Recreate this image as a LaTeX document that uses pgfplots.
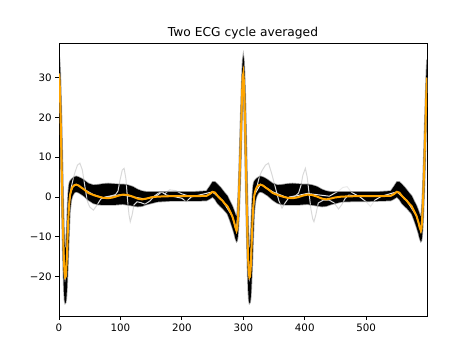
\documentclass[border=0pt]{standalone}
\usepackage{fontspec}
\setmainfont{DejaVu Sans}
\usepackage{pgfplots}
\usepackage{pgfplotstable}
\pgfplotsset{compat=1.18}
\usepgfplotslibrary{fillbetween}
\definecolor{mplorange}{HTML}{FFA500}
\definecolor{lightgr}{HTML}{D9D9D9}
\definecolor{lightgrb}{HTML}{EAEAEA}

% x mean upper lower
\pgfplotstableread{
x M U L
0 31.0 35.6 27.0
1 29.0 34.5 23.0
2 24.0 31.5 16.0
3 17.5 27.0 9.0
4 10.0 21.0 1.0
5 2.5 14.0 -6.0
6 -5.0 6.5 -13.0
7 -11.0 -1.0 -19.0
8 -16.0 -7.0 -23.5
9 -19.0 -11.5 -26.0
10 -20.2 -13.0 -26.7
11 -20.0 -12.5 -26.5
12 -18.0 -10.0 -25.5
13 -14.5 -6.0 -23.0
14 -10.0 -2.0 -19.5
15 -6.0 1.0 -15.5
16 -3.0 2.8 -11.0
17 -1.0 3.6 -7.0
18 0.5 4.0 -3.5
20 1.8 4.4 -0.8
22 2.5 4.7 0.3
25 3.0 5.0 1.1
28 3.1 5.2 1.3
32 2.9 5.0 1.1
36 2.4 4.7 0.7
40 2.0 4.3 0.3
48 1.0 3.4 -0.8
56 0.5 3.0 -1.6
64 0.1 3.1 -1.9
72 -0.2 3.3 -2.0
80 -0.3 3.4 -2.0
88 -0.1 3.3 -2.0
96 0.3 3.2 -1.9
104 0.6 3.2 -1.8
112 0.5 3.0 -2.0
120 0.1 2.6 -2.2
128 -0.4 1.9 -2.4
135 -0.6 1.5 -2.3
142 -0.4 1.3 -1.9
150 -0.1 1.3 -1.6
160 0.1 1.3 -1.2
180 0.2 1.3 -1.0
200 0.2 1.3 -1.0
220 0.2 1.3 -1.0
240 0.3 1.5 -0.9
245 0.7 2.6 -0.5
250 1.3 3.8 0.0
254 1.1 3.8 -0.6
258 0.3 3.2 -1.6
263 -0.5 2.4 -2.4
266 -0.9 1.8 -2.8
270 -1.7 1.0 -3.5
274 -2.3 0.3 -4.2
278 -3.5 -1.0 -5.8
282 -4.8 -2.2 -7.6
285 -6.3 -3.4 -9.1
287 -7.6 -4.3 -10.4
289 -8.5 -5.0 -11.2
290 -8.0 -4.0 -11.0
291 -6.0 -1.5 -10.0
292 -3.0 2.0 -8.0
293 1.0 6.5 -5.0
294 5.5 11.5 -1.0
295 10.0 17.0 3.0
296 15.0 22.0 8.0
297 20.5 27.0 14.0
298 26.0 31.5 20.0
299 30.0 34.5 25.0
300 31.0 35.6 27.0
301 29.0 34.5 23.0
302 24.0 31.5 16.0
303 17.5 27.0 9.0
304 10.0 21.0 1.0
305 2.5 14.0 -6.0
306 -5.0 6.5 -13.0
307 -11.0 -1.0 -19.0
308 -16.0 -7.0 -23.5
309 -19.0 -11.5 -26.0
310 -20.2 -13.0 -26.7
311 -20.0 -12.5 -26.5
312 -18.0 -10.0 -25.5
313 -14.5 -6.0 -23.0
314 -10.0 -2.0 -19.5
315 -6.0 1.0 -15.5
316 -3.0 2.8 -11.0
317 -1.0 3.6 -7.0
318 0.5 4.0 -3.5
320 1.8 4.4 -0.8
322 2.5 4.7 0.3
325 3.0 5.0 1.1
328 3.1 5.2 1.3
332 2.9 5.0 1.1
336 2.4 4.7 0.7
340 2.0 4.3 0.3
348 1.0 3.4 -0.8
356 0.5 3.0 -1.6
364 0.1 3.1 -1.9
372 -0.2 3.3 -2.0
380 -0.3 3.4 -2.0
388 -0.1 3.3 -2.0
396 0.3 3.2 -1.9
404 0.6 3.2 -1.8
412 0.5 3.0 -2.0
420 0.1 2.6 -2.2
428 -0.4 1.9 -2.4
435 -0.6 1.5 -2.3
442 -0.4 1.3 -1.9
450 -0.1 1.3 -1.6
460 0.1 1.3 -1.2
480 0.2 1.3 -1.1
500 0.2 1.3 -1.1
520 0.2 1.3 -1.0
540 0.3 1.5 -0.9
545 0.7 2.6 -0.5
550 1.3 3.8 0.0
554 1.1 3.8 -0.6
558 0.3 3.2 -1.6
563 -0.5 2.4 -2.4
566 -0.9 1.8 -2.8
570 -1.7 1.0 -3.5
574 -2.3 0.3 -4.2
578 -3.5 -1.0 -5.8
582 -4.8 -2.2 -7.6
585 -6.3 -3.4 -9.1
587 -7.6 -4.3 -10.4
589 -8.5 -5.0 -11.2
590 -8.0 -4.0 -11.0
591 -6.0 -1.5 -10.0
592 -3.0 2.0 -8.0
593 1.0 6.5 -5.0
594 5.5 11.5 -1.0
595 10.0 17.0 3.0
596 15.0 22.0 8.0
597 20.5 27.0 14.0
598 26.0 31.5 20.0
599 30.0 34.5 25.0
}\band

\pgfplotstableread{
x y
0 31
2 24
4 10
6 -5
8 -16
10 -20.2
12 -18
14 -10
16 -3
18 0.5
20 2.5
23 4.5
26 6.2
30 8.0
34 8.5
38 6.8
42 2.8
46 -1.0
50 -2.5
56 -3.3
62 -2.0
68 -0.5
75 0
85 0.3
92 0.6
96 1.5
99 4.0
103 6.8
106 7.2
109 4.5
112 -1.5
114 -4.5
116 -6.2
119 -4.5
122 -2
127 -1.2
133 -1.4
140 -1.8
148 -1.0
155 0.2
162 1.0
167 1.3
172 0.8
180 1.8
190 1.6
200 0.8
210 0.3
240 0.3
250 1.3
258 0.3
266 -0.9
274 -2.3
282 -4.8
289 -8.5
291 -6
293 1
295 10
297 20.5
299 30
300 31
302 24
304 10
306 -5
308 -16
310 -20.2
312 -18
314 -10
316 -3
318 0.5
322 2.5
326 5
330 6.5
336 8.0
341 8.5
346 6.0
352 2.5
358 -1.0
363 -2.8
368 -1.5
375 0
385 0.3
390 1.0
394 3
397 5.5
401 7.2
404 5
407 1
410 -3
413 -5.5
415 -6.2
418 -4.5
422 -1.5
430 -0.8
440 -0.8
448 -1.5
455 -3.0
460 -2.0
466 -0.3
472 0.5
480 0.3
500 0.2
540 0.3
550 1.3
558 0.3
566 -0.9
574 -2.3
582 -4.8
589 -8.5
591 -6
593 1
595 10
597 20.5
599 30
}\grayA

\pgfplotstableread{
x y
0 31
2 24
4 10
6 -5
8 -16
10 -20.2
12 -18
14 -10
16 -3
18 0.5
22 2.5
28 3.2
40 2.0
56 0.6
72 -0.2
100 0.6
140 -0.5
160 0.4
167 1.3
175 0.5
200 -0.3
207 -1.2
215 0
250 1.3
266 -0.9
282 -4.8
289 -8.5
293 1
297 20.5
300 31
304 10
308 -16
310 -20.2
314 -10
318 0.5
328 3.2
348 1.3
372 -0.2
404 0.9
440 0.2
455 1.5
462 2.4
469 2.6
476 1.2
490 0.0
500 -1.2
507 -2.4
514 -0.8
525 0.2
550 1.3
566 -0.9
582 -4.8
589 -8.5
593 1
597 20.5
599 30
}\grayB

\begin{document}
\begin{tikzpicture}
\begin{axis}[
  at={(0,0)}, anchor=south west,
  scale only axis, width=368bp, height=273bp,
  xmin=0, xmax=599, ymin=-29.9, ymax=38.7,
  xtick={0,100,200,300,400,500},
  xticklabels={0,100,200,300,400,500},
  ytick={-20,-10,0,10,20,30},
  yticklabels={−20,−10,0,10,20,30},
  tick align=outside, tick pos=left,
  major tick length=3.6bp,
  axis line style={line width=0.8bp},
  every tick/.style={line width=0.8bp, black},
  ticklabel style={font=\fontsize{10.3}{12}\selectfont},
  xticklabel style={inner sep=0pt, yshift=-3.6bp},
  yticklabel style={inner sep=0pt, xshift=-3.6bp},
  /pgf/number format/assume math mode=true,
  title={Two ECG cycle averaged},
  title style={font=\fontsize{12.3}{14}\selectfont, anchor=base, yshift=1bp, inner sep=0pt},
]
\addplot[lightgrb, line width=1bp] table[x=x,y=y] {\grayB};
\addplot[lightgr, line width=1bp] table[x=x,y=y] {\grayA};
\addplot[name path=up, draw=black, draw opacity=0.35, line width=1.5bp] table[x=x,y=U] {\band};
\addplot[name path=lo, draw=black, draw opacity=0.35, line width=1.5bp] table[x=x,y=L] {\band};
\addplot[fill=black, draw=none] fill between[of=up and lo];
\addplot[mplorange, line width=2bp] table[x=x,y=M] {\band};
\end{axis}
\path (-59bp,-39bp) rectangle (415bp,316bp);
\end{tikzpicture}
\end{document}
